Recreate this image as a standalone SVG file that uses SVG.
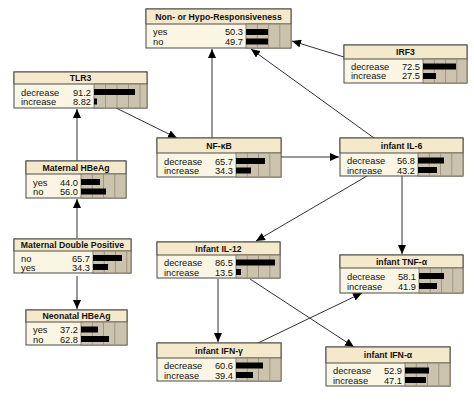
<svg xmlns="http://www.w3.org/2000/svg" width="474" height="411" viewBox="0 0 474 411">
<style>
.box{fill:#fbf6e4;stroke:#4a4a4a;stroke-width:1}
.ttl{fill:#f4e9cb;stroke:#4a4a4a;stroke-width:1}
.ba{fill:#cbc3ad;stroke:#6e6858;stroke-width:0.8}
.gl{stroke:#938c79;stroke-width:0.8}
.bar{fill:#000}
.t{font-family:"Liberation Sans",Arial,sans-serif;font-size:8.7px;font-weight:bold;fill:#111;text-anchor:middle}
.l{font-family:"Liberation Sans",Arial,sans-serif;font-size:9.3px;fill:#111}
.v{font-family:"Liberation Sans",Arial,sans-serif;font-size:9.3px;fill:#111;text-anchor:end}
.c{stroke:#333;stroke-width:1;fill:none;marker-end:url(#ah)}
</style>
<defs>
<marker id="ah" markerUnits="userSpaceOnUse" markerWidth="10" markerHeight="8" refX="9" refY="4" orient="auto">
<path d="M0,0 L9,4 L0,8 Z" fill="#000"/>
</marker>
</defs>
<rect width="474" height="411" fill="#fff"/>
<g id="connectors">
<path class="c" d="M212 138 L212 49"/>
<path class="c" d="M344 57 L292 41"/>
<path class="c" d="M374 138 L251 49"/>
<path class="c" d="M116 108 L177 138"/>
<path class="c" d="M281 157 L339 157"/>
<path class="c" d="M77 161 L77 109"/>
<path class="c" d="M77 238 L77 199"/>
<path class="c" d="M77 276 L77 309"/>
<path class="c" d="M402 176 L402 254"/>
<path class="c" d="M367 176 L256 241"/>
<path class="c" d="M218 279 L218 342"/>
<path class="c" d="M250 279 L354 347"/>
<path class="c" d="M258 343 L362 293"/>
</g>

<g id="hypo">
<rect class="box" x="146" y="9" width="145" height="39"/>
<rect class="ttl" x="146" y="9" width="145" height="15"/>
<text class="t" x="218.5" y="19.8">Non- or Hypo-Responsiveness</text>
<rect class="ba" x="246" y="24" width="45" height="24"/>
<path class="gl" d="M257.3 24V48M268.5 24V48M279.8 24V48"/>
<rect class="bar" x="246" y="29" width="22" height="6"/>
<rect class="bar" x="246" y="38.5" width="22" height="6"/>
<text class="l" x="153" y="35">yes</text><text class="v" x="243" y="35">50.3</text>
<text class="l" x="153" y="44.5">no</text><text class="v" x="243" y="44.5">49.7</text>
</g>

<g id="irf3">
<rect class="box" x="344" y="45" width="123" height="38"/>
<rect class="ttl" x="344" y="45" width="123" height="14"/>
<text class="t" x="405.5" y="55.3">IRF3</text>
<rect class="ba" x="423" y="59" width="44" height="24"/>
<path class="gl" d="M434.3 59V83M445.5 59V83M456.8 59V83"/>
<rect class="bar" x="423" y="63.5" width="33" height="6"/>
<rect class="bar" x="423" y="73" width="13" height="6"/>
<text class="l" x="351" y="69.5">decrease</text><text class="v" x="420" y="69.5">72.5</text>
<text class="l" x="351" y="79">increase</text><text class="v" x="420" y="79">27.5</text>
</g>

<g id="tlr3">
<rect class="box" x="14" y="72" width="133" height="36"/>
<rect class="ttl" x="14" y="72" width="133" height="12"/>
<text class="t" x="80.5" y="81.3">TLR3</text>
<rect class="ba" x="94" y="84" width="53" height="24"/>
<path class="gl" d="M105.5 84V108M117 84V108M128.5 84V108M140 84V108"/>
<rect class="bar" x="94" y="89" width="41" height="6"/>
<rect class="bar" x="94" y="98.5" width="3" height="6"/>
<text class="l" x="21" y="95.5">decrease</text><text class="v" x="91" y="95.5">91.2</text>
<text class="l" x="21" y="105">increase</text><text class="v" x="91" y="105">8.82</text>
</g>

<g id="nfkb">
<rect class="box" x="157" y="138" width="124" height="39"/>
<rect class="ttl" x="157" y="138" width="124" height="15"/>
<text class="t" x="219" y="148.8">NF-κB</text>
<rect class="ba" x="236" y="153" width="45" height="24"/>
<path class="gl" d="M247.3 153V177M258.5 153V177M269.8 153V177"/>
<rect class="bar" x="236" y="158" width="29" height="6"/>
<rect class="bar" x="236" y="167.5" width="15" height="6"/>
<text class="l" x="164" y="164.5">decrease</text><text class="v" x="233" y="164.5">65.7</text>
<text class="l" x="164" y="174">increase</text><text class="v" x="233" y="174">34.3</text>
</g>

<g id="il6">
<rect class="box" x="340" y="138" width="123" height="38"/>
<rect class="ttl" x="340" y="138" width="123" height="15"/>
<text class="t" x="401.5" y="148.8">infant IL-6</text>
<rect class="ba" x="418" y="153" width="45" height="23"/>
<path class="gl" d="M429.3 153V176M440.5 153V176M451.8 153V176"/>
<rect class="bar" x="418" y="157.5" width="26" height="6"/>
<rect class="bar" x="418" y="167" width="19" height="6"/>
<text class="l" x="347" y="164">decrease</text><text class="v" x="415" y="164">56.8</text>
<text class="l" x="347" y="173.5">increase</text><text class="v" x="415" y="173.5">43.2</text>
</g>

<g id="mhbeag">
<rect class="box" x="26" y="161" width="100" height="37"/>
<rect class="ttl" x="26" y="161" width="100" height="13"/>
<text class="t" x="76" y="170.8">Maternal HBeAg</text>
<rect class="ba" x="81" y="174" width="45" height="24"/>
<path class="gl" d="M92.3 174V198M103.5 174V198M114.8 174V198"/>
<rect class="bar" x="81" y="179" width="19" height="6"/>
<rect class="bar" x="81" y="188.5" width="25" height="6"/>
<text class="l" x="33" y="185.5">yes</text><text class="v" x="78" y="185.5">44.0</text>
<text class="l" x="33" y="195">no</text><text class="v" x="78" y="195">56.0</text>
</g>

<g id="mdp">
<rect class="box" x="14" y="239" width="117" height="34"/>
<rect class="ttl" x="14" y="239" width="117" height="12"/>
<text class="t" x="72.5" y="248.3">Maternal Double Positive</text>
<rect class="ba" x="93" y="251" width="38" height="22"/>
<path class="gl" d="M104.3 251V273M115.5 251V273M126.8 251V273"/>
<rect class="bar" x="93" y="255" width="29" height="6"/>
<rect class="bar" x="93" y="264" width="15" height="6"/>
<text class="l" x="21" y="261.5">no</text><text class="v" x="90" y="261.5">65.7</text>
<text class="l" x="21" y="270.5">yes</text><text class="v" x="90" y="270.5">34.3</text>
</g>

<g id="nhbeag">
<rect class="box" x="26" y="310" width="101" height="35"/>
<rect class="ttl" x="26" y="310" width="101" height="12"/>
<text class="t" x="76.5" y="319.3">Neonatal HBeAg</text>
<rect class="ba" x="81" y="322" width="46" height="23"/>
<path class="gl" d="M92.3 322V345M103.5 322V345M114.8 322V345"/>
<rect class="bar" x="81" y="326.5" width="17" height="6"/>
<rect class="bar" x="81" y="336" width="28" height="6"/>
<text class="l" x="33" y="333">yes</text><text class="v" x="78" y="333">37.2</text>
<text class="l" x="33" y="342.5">no</text><text class="v" x="78" y="342.5">62.8</text>
</g>

<g id="il12">
<rect class="box" x="157" y="242" width="123" height="36"/>
<rect class="ttl" x="157" y="242" width="123" height="13"/>
<text class="t" x="218.5" y="251.8">Infant IL-12</text>
<rect class="ba" x="236" y="255" width="44" height="23"/>
<path class="gl" d="M247.3 255V278M258.5 255V278M269.8 255V278"/>
<rect class="bar" x="236" y="259.5" width="39" height="6"/>
<rect class="bar" x="236" y="269" width="5" height="6"/>
<text class="l" x="164" y="266">decrease</text><text class="v" x="233" y="266">86.5</text>
<text class="l" x="164" y="275.5">increase</text><text class="v" x="233" y="275.5">13.5</text>
</g>

<g id="tnf">
<rect class="box" x="340" y="255" width="123" height="38"/>
<rect class="ttl" x="340" y="255" width="123" height="13"/>
<text class="t" x="401.5" y="264.8">infant TNF-α</text>
<rect class="ba" x="419" y="268" width="44" height="25"/>
<path class="gl" d="M430.3 268V293M441.5 268V293M452.8 268V293"/>
<rect class="bar" x="419" y="273" width="25" height="6"/>
<rect class="bar" x="419" y="283" width="18" height="6"/>
<text class="l" x="347" y="279.5">decrease</text><text class="v" x="416" y="279.5">58.1</text>
<text class="l" x="347" y="289.5">increase</text><text class="v" x="416" y="289.5">41.9</text>
</g>

<g id="ifng">
<rect class="box" x="157" y="343" width="124" height="38"/>
<rect class="ttl" x="157" y="343" width="124" height="15"/>
<text class="t" x="219" y="353.8">infant IFN-γ</text>
<rect class="ba" x="236" y="358" width="45" height="23"/>
<path class="gl" d="M247.3 358V381M258.5 358V381M269.8 358V381"/>
<rect class="bar" x="236" y="362.5" width="27" height="6"/>
<rect class="bar" x="236" y="372" width="17" height="6"/>
<text class="l" x="164" y="369">decrease</text><text class="v" x="233" y="369">60.6</text>
<text class="l" x="164" y="378.5">increase</text><text class="v" x="233" y="378.5">39.4</text>
</g>

<g id="ifna">
<rect class="box" x="326" y="347" width="124" height="39"/>
<rect class="ttl" x="326" y="347" width="124" height="16"/>
<text class="t" x="388" y="358.3">infant IFN-α</text>
<rect class="ba" x="405" y="363" width="45" height="23"/>
<path class="gl" d="M416.3 363V386M427.5 363V386M438.8 363V386"/>
<rect class="bar" x="405" y="367.5" width="24" height="6"/>
<rect class="bar" x="405" y="377" width="21" height="6"/>
<text class="l" x="333" y="374">decrease</text><text class="v" x="402" y="374">52.9</text>
<text class="l" x="333" y="383.5">increase</text><text class="v" x="402" y="383.5">47.1</text>
</g>
</svg>
